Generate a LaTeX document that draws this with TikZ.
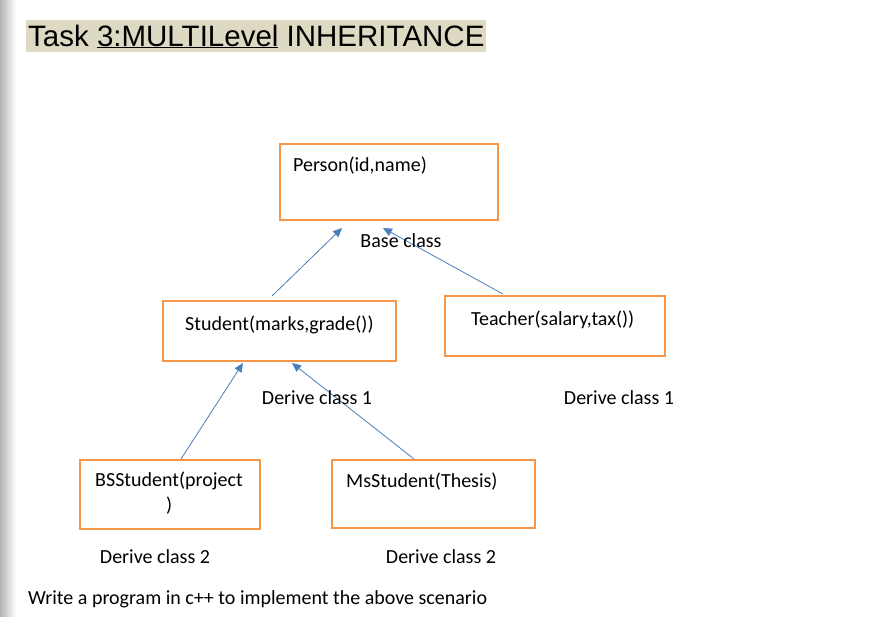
\documentclass[tikz,border=0pt]{standalone}
\usepackage{fontspec}
\setmainfont{Carlito}
\newfontfamily\titlefont{Liberation Sans}
\usetikzlibrary{arrows.meta}
\definecolor{titlebg}{HTML}{DDD9C3}
\definecolor{linkblue}{HTML}{4A7EBB}
\definecolor{boxorange}{HTML}{F79646}

\begin{document}
\begin{tikzpicture}[x=1pt,y=-1pt,
	classbox/.style = {draw=boxorange, line width=2.5pt},
	boxtext/.style = {anchor=base west, font=\fontsize{20}{22}\selectfont, inner sep=0pt},
	plain/.style = {anchor=base, font=\fontsize{20}{22}\selectfont, inner sep=0pt},
	link/.style = {draw=linkblue, line width=0.8pt, -{Triangle[length=9pt,width=8pt]}}]
	    \useasboundingbox (0,0) rectangle (889,616);
	    \fill[white] (0,0) rectangle (889,616);
	    \shade[left color=black!30, right color=white] (0,0) rectangle (16,616);
	    % title
	    \fill[titlebg] (26,20) rectangle (486,52);
	    \node[anchor=base west, inner sep=0pt, font=\titlefont\fontsize{29.5}{31}\selectfont] (title) at (28,46) {Task \underline{3:MULTILevel} INHERITANCE};
	    % classes
	    \draw[classbox] (280,144) rectangle (498,220);
	    \node[boxtext] (person) at (293,171) {Person(id,name)};
	    \draw[classbox] (163,301) rectangle (396,361);
	    \node[boxtext] (student) at (185,330) {Student(marks,grade())};
	    \draw[classbox] (445,296) rectangle (665,356);
	    \node[boxtext] (teacher) at (471,325) {Teacher(salary,tax())};
	    \draw[classbox] (80,460) rectangle (260,529);
	    \node[boxtext] (bs) at (95,486) {BSStudent(project};
	    \node[boxtext] (bsclose) at (166,511) {)};
	    \draw[classbox] (332,460) rectangle (535,528);
	    \node[boxtext] (ms) at (346,487) {MsStudent(Thesis)};
	    % arrow ends
	    \coordinate (s1) at (272,296);
	    \coordinate (p1) at (342,228);
	    \coordinate (t1) at (503,294);
	    \coordinate (p2) at (383,228);
	    \coordinate (b1) at (181,459);
	    \coordinate (s2) at (243,363);
	    \coordinate (m1) at (414,459);
	    \coordinate (s3) at (292,363);
	    \draw[link] (s1) -- (p1);
	    \draw[link] (t1) -- (p2);
	    \draw[link] (b1) -- (s2);
	    \draw[link] (m1) -- (s3);
	    % labels
	    \node[plain] (base) at (401,247) {Base class};
	    \node[plain] (d1a) at (317,404) {Derive class 1};
	    \node[plain] (d1b) at (619,404) {Derive class 1};
	    \node[plain] (d2a) at (155,563) {Derive class 2};
	    \node[plain] (d2b) at (441,563) {Derive class 2};
	    \node[boxtext] (task) at (28,604) {Write a program in c++ to implement the above scenario};
\end{tikzpicture}
\end{document}
